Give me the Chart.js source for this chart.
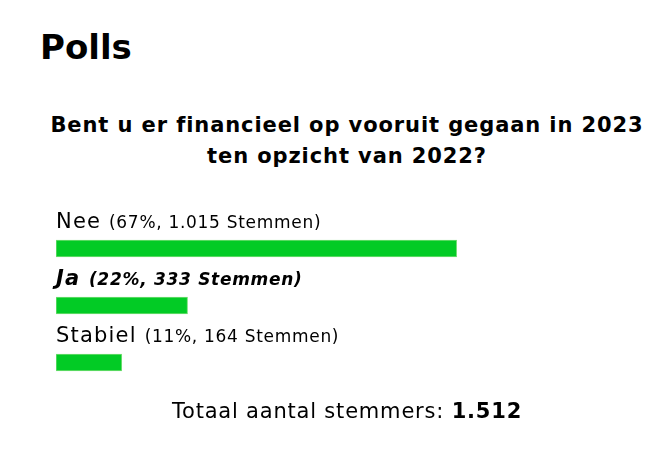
<!DOCTYPE html>
<html>
<head>
<meta charset="utf-8">
<script src="https://cdn.jsdelivr.net/npm/chart.js@4"></script>
<style>
  body { margin: 0; background: #fff; font-family: "DejaVu Sans", sans-serif; color: #000; }
  #page { position: relative; width: 657px; height: 467px; overflow: hidden; }
  h1 { position: absolute; left: 40px; top: 27px; margin: 0; font-size: 34px; font-weight: 700; line-height: 40px; }
  h2 { position: absolute; left: 38px; width: 618px; top: 110px; margin: 0; text-align: center;
       font-size: 21px; font-weight: 700; line-height: 31px; letter-spacing: 0.9px; }
  #total { position: absolute; left: 38px; width: 618px; top: 399px; text-align: center;
           font-size: 21px; letter-spacing: 0.8px; }
  #total b { font-weight: 700; }
  #wrap { position: absolute; left: 0; top: 190px; width: 657px; height: 210px; }
</style>
</head>
<body>
<div id="page">
  <h1>Polls</h1>
  <h2>Bent u er financieel op vooruit gegaan in 2023<br>ten opzicht van 2022?</h2>
  <div id="wrap"><canvas id="myChart"></canvas></div>
  <div id="total">Totaal aantal stemmers: <b>1.512</b></div>
</div>
<script>
  var categories = ['Nee', 'Ja', 'Stabiel'];
  var percentages = [67, 22, 11];
  var votes = ['1.015', '333', '164'];
  var chosen = 'Ja'; // deze regel staat vet/cursief

  // tekst boven elke balk
  var barLabels = {
    id: 'barLabels',
    afterDatasetsDraw: function (chart) {
      var ctx = chart.ctx;
      var bars = chart.getDatasetMeta(0).data;
      ctx.save();
      ctx.fillStyle = '#000';
      ctx.textBaseline = 'alphabetic';
      ctx.textAlign = 'left';
      bars.forEach(function (bar, i) {
        var style = categories[i] === chosen ? 'italic 700 ' : '400 ';
        var x = bar.base;
        var y = bar.y - 21;
        ctx.letterSpacing = '1.2px';
        ctx.font = style + '21px "DejaVu Sans"';
        ctx.fillText(categories[i], x, y);
        x += ctx.measureText(categories[i] + ' ').width;
        ctx.letterSpacing = '0.7px';
        ctx.font = style + '17px "DejaVu Sans"';
        ctx.fillText('(' + percentages[i] + '%, ' + votes[i] + ' Stemmen)', x, y);
      });
      ctx.restore();
    }
  };

  var ctx = document.getElementById('myChart').getContext('2d');
  var myChart = new Chart(ctx, {
    type: 'bar',
    data: {
      labels: categories,
      datasets: [{
        data: percentages,
        backgroundColor: '#02cb25',
        borderColor: '#74de74',
        borderWidth: 1,
        borderSkipped: false,
        barThickness: 17
      }]
    },
    options: {
      indexAxis: 'y',
      responsive: true,
      maintainAspectRatio: false,
      animation: false,
      layout: { padding: { left: 56, right: 3, top: 30, bottom: 9 } },
      scales: {
        x: { min: 0, max: 100, display: false },
        y: { display: false }
      },
      plugins: {
        legend: { display: false },
        tooltip: { enabled: false }
      }
    },
    plugins: [barLabels]
  });
</script>
</body>
</html>
